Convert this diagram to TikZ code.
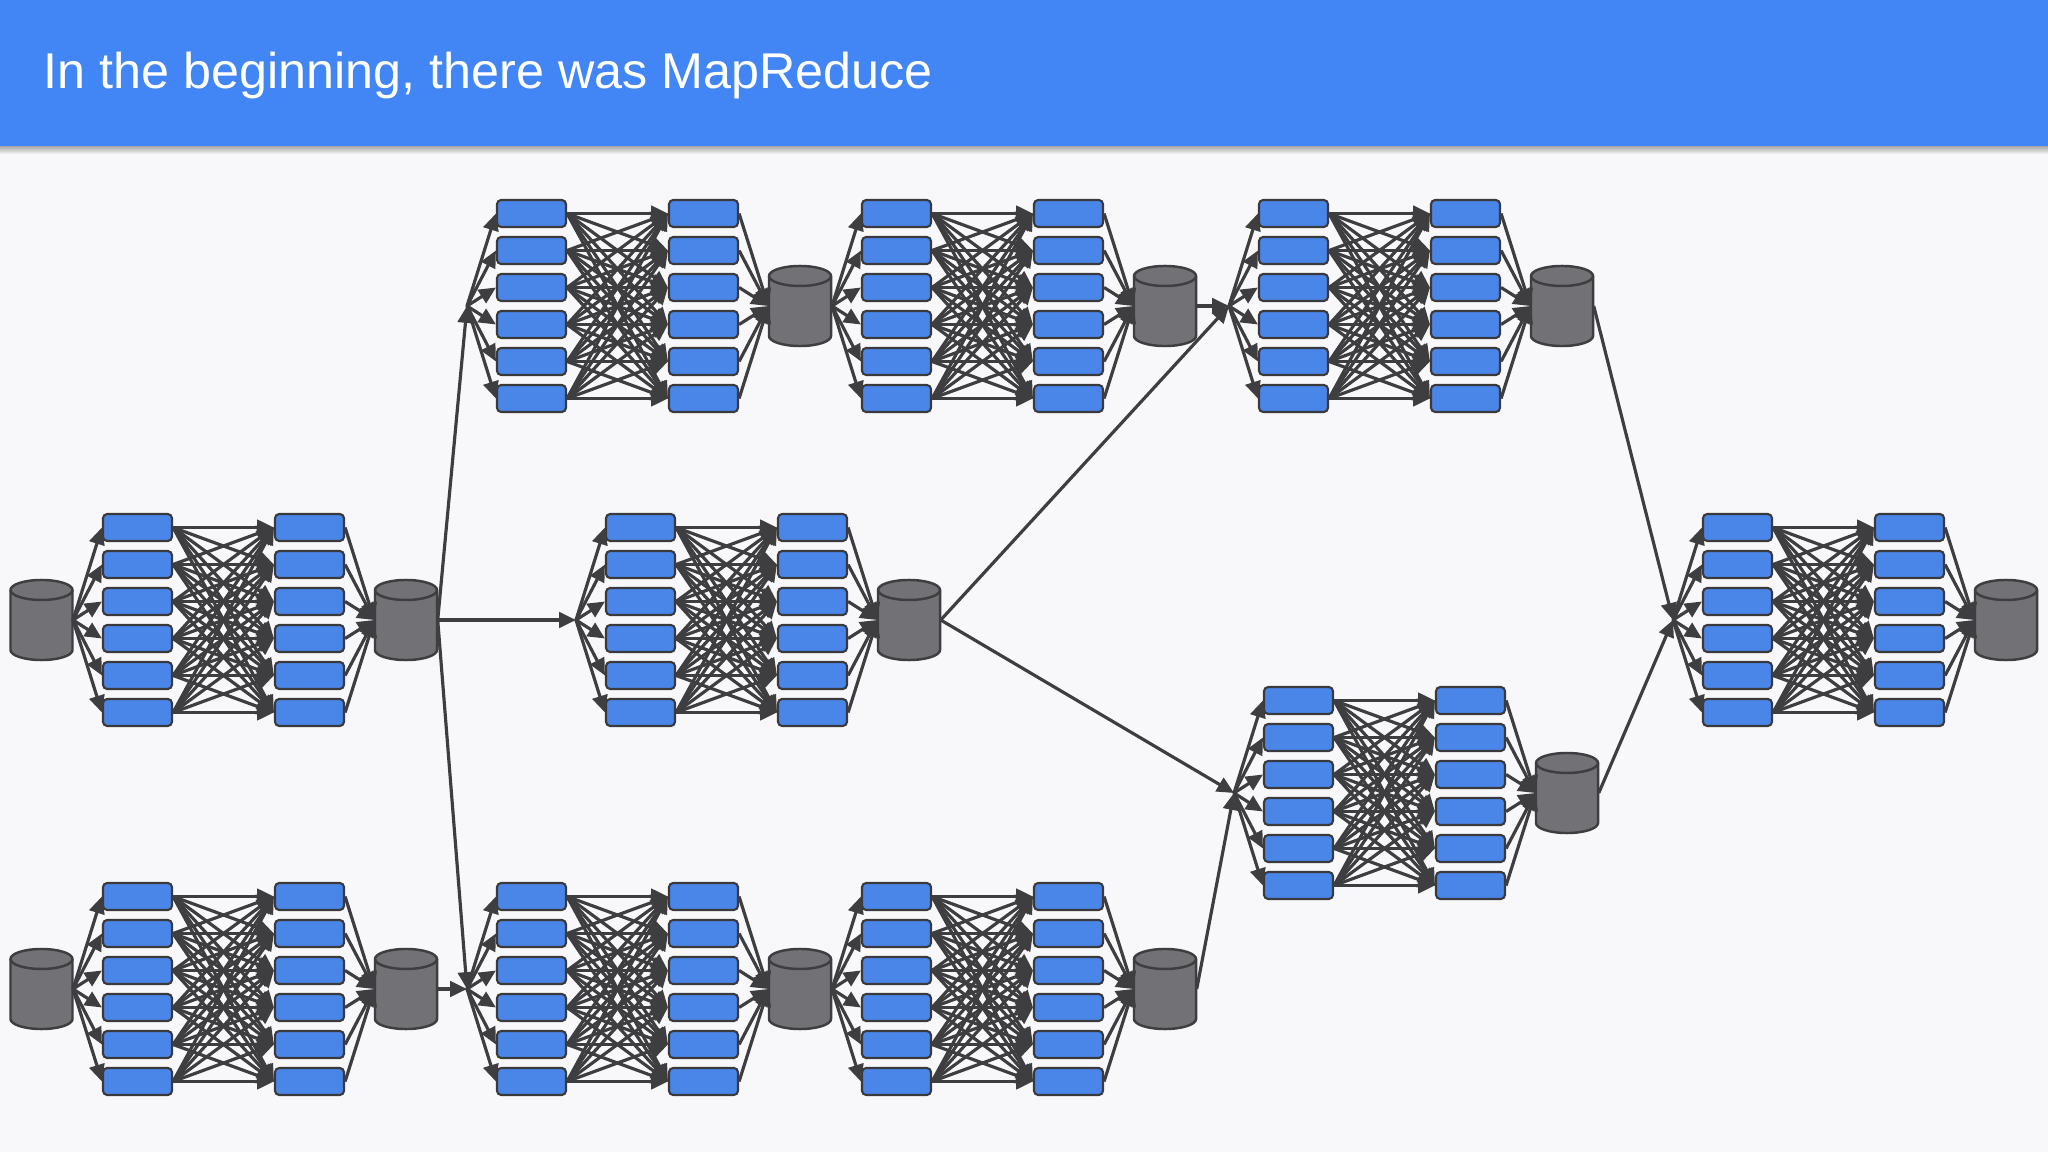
\documentclass[tikz,border=0pt]{standalone}
\usepackage{fontspec}
\setmainfont{Liberation Sans}
\usetikzlibrary{arrows.meta}

\definecolor{barblue}{HTML}{4285F4}
\definecolor{boxblue}{HTML}{4A86E8}
\definecolor{boxline}{HTML}{3A3A3C}
\definecolor{dbgray}{HTML}{727175}
\definecolor{wire}{HTML}{3E3E40}
\definecolor{paper}{HTML}{F8F8FA}

% the can drawn over a (named) db node
\newcommand\drawdb[1]{%
    \filldraw[fill=dbgray, draw=wire, line width=0.7pt]
        ([shift={(-0.31cm,0.30cm)}]#1.center) -- ++(0cm,-0.60cm)
        arc[start angle=180, end angle=360, x radius=0.31cm, y radius=0.10cm]
        -- ++(0cm,0.60cm)
        arc[start angle=0, end angle=180, x radius=0.31cm, y radius=0.10cm] -- cycle;
    \draw[wire, line width=0.7pt] ([shift={(-0.31cm,0.30cm)}]#1.center)
        arc[start angle=180, end angle=360, x radius=0.31cm, y radius=0.10cm];
}

\begin{document}
\begin{tikzpicture}[x=0.01cm, y=-0.01cm,
    taskbox/.style={draw=boxline, fill=boxblue, rounded corners=1.2pt, line width=0.6pt,
        minimum width=0.69cm, minimum height=0.27cm, inner sep=0pt},
    db/.style={minimum width=0.62cm, minimum height=0.80cm, inner sep=0pt},
    arr/.style={draw=wire, line width=0.9pt, -{Triangle[length=4.8pt, width=4.4pt]}}]
    \useasboundingbox (0,0) rectangle (2048,1152);
    \fill[paper] (0,0) rectangle (2048,1152);

    % title bar
    \shade[top color=black!35, bottom color=paper] (0,146) rectangle (2048,154);
    \fill[barblue] (0,0) rectangle (2048,146);
    \node[anchor=base west, text=white, inner sep=0pt, font=\fontsize{14.3}{17}\selectfont]
        (title) at (43,89) {In the beginning, there was MapReduce};

    % input data
    \node[db] (ml-src) at (41.5,620) {};
    \node[db] (bl-src) at (41.5,989) {};
    \drawdb{ml-src}
    \drawdb{bl-src}

    % one map/shuffle/reduce stage per entry: name / left edge of mappers / centre y
    \foreach \nm/\mx/\cy in {ml/103/620, bl/103/989, t1/497/306, t2/862/306, t3/1259/306,
                             mm/606/620, lo/1264/793, b2/497/989, b3/862/989, mr/1703/620}{
        \coordinate (\nm-in) at ({\mx-30},\cy);
        \foreach \k in {0,...,5}{
            \node[taskbox] (\nm-m\k) at ({\mx+34.5},{\cy+(\k-2.5)*37}) {};
            \node[taskbox] (\nm-r\k) at ({\mx+206.5},{\cy+(\k-2.5)*37}) {};
        }
        \node[db] (\nm-out) at ({\mx+303},\cy) {};
        \drawdb{\nm-out}
    }

    \foreach \nm in {ml, bl, t1, t2, t3, mm, lo, b2, b3, mr}{
        \foreach \i in {0,...,5}{
            \draw[arr] (\nm-in) -- (\nm-m\i.west);
            \draw[arr] (\nm-r\i.east) -- (\nm-out.west);
            \foreach \j in {0,...,5}
                \draw[arr] (\nm-m\i.east) -- (\nm-r\j.west);
        }
    }

    % stage to stage
    \draw[arr] (ml-out.east) -- (t1-in);
    \draw[arr] (ml-out.east) -- (mm-in);
    \draw[arr] (ml-out.east) -- (b2-in);
    \draw[arr] (bl-out.east) -- (b2-in);
    \draw[arr] (t2-out.east) -- (t3-in);
    \draw[arr] (mm-out.east) -- (t3-in);
    \draw[arr] (mm-out.east) -- (lo-in);
    \draw[arr] (b3-out.east) -- (lo-in);
    \draw[arr] (t3-out.east) -- (mr-in);
    \draw[arr] (lo-out.east) -- (mr-in);
\end{tikzpicture}
\end{document}
